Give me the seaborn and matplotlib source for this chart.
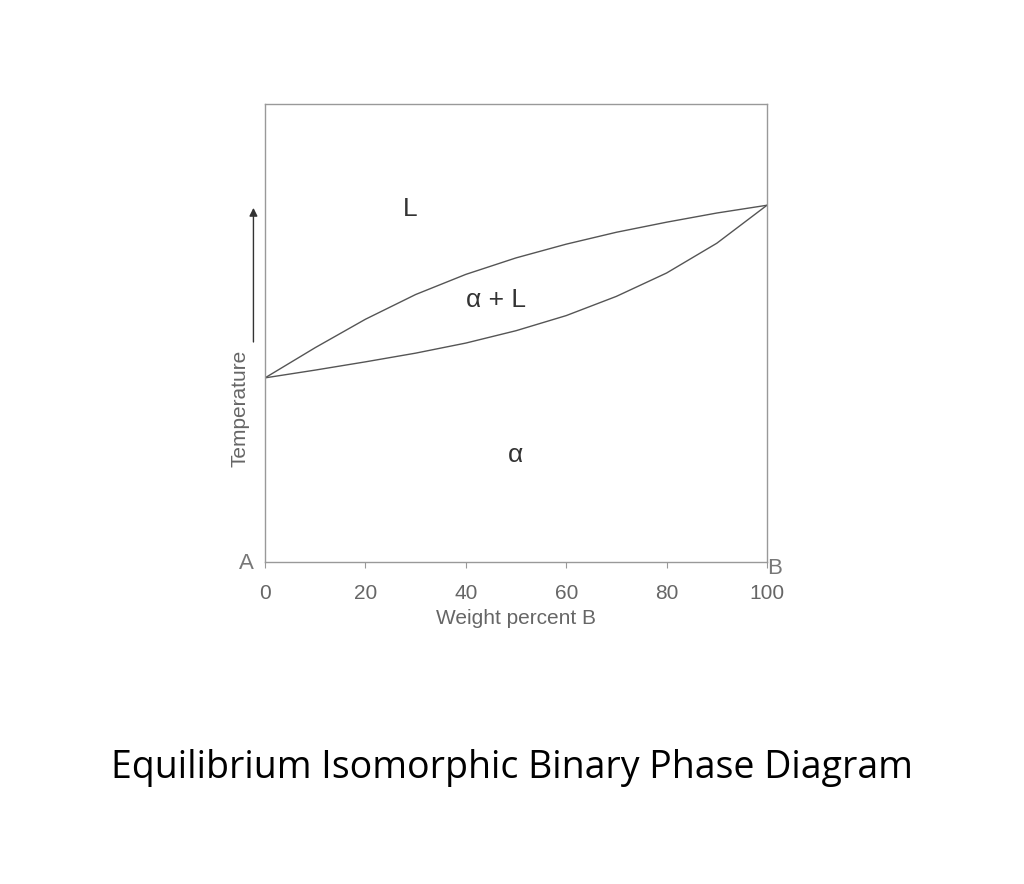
import matplotlib
matplotlib.use("Agg")
import matplotlib.pyplot as plt
import seaborn as sns
import pandas as pd

sns.set_theme(style="white")
plt.rcParams['font.family'] = ['Liberation Sans', 'DejaVu Sans']

comp = [0, 10, 20, 30, 40, 50, 60, 70, 80, 90, 100]
liquidus = [0.402, 0.468, 0.530, 0.584, 0.628, 0.664, 0.694, 0.720, 0.742, 0.762, 0.779]
solidus = [0.402, 0.419, 0.437, 0.456, 0.478, 0.505, 0.538, 0.580, 0.631, 0.696, 0.779]
ticks = [0, 20, 40, 60, 80, 100]

df = pd.DataFrame({"x": comp + comp, "y": liquidus + solidus,
                   "curve": ["liquidus"] * len(comp) + ["solidus"] * len(comp)})

fig = plt.figure(figsize=(10.24, 8.84), dpi=100)
ax = fig.add_axes([0.2588, 0.3643, 0.4902, 0.518])
sns.lineplot(data=df, x="x", y="y", units="curve", estimator=None, color="#555555",
             lw=1.0, ax=ax, legend=False)
ax.set_xlim(0, 100)
ax.set_ylim(0, 1)
ax.set_xticks(ticks)
ax.set_xticklabels([str(t) for t in ticks], color="#666666", fontsize=15)
ax.set_yticks([])
ax.tick_params(axis="x", direction="out", length=4, width=0.8, color="#999999",
               bottom=True, pad=12)
for s in ax.spines.values():
    s.set_color("#999999")
    s.set_linewidth(1.0)
ax.set_xlabel("Weight percent B", color="#666666", fontsize=15, labelpad=4)
ax.set_ylabel("")

ax.text(29, 0.77, "L", fontsize=19, color="#333333", ha="center", va="center")
ax.text(46, 0.572, "α + L", fontsize=19, color="#333333", ha="center", va="center")
ax.text(50, 0.234, "α", fontsize=19, color="#333333", ha="center", va="center")

fig.text(0.2405, 0.362, "A", fontsize=16, color="#777777", ha="center", va="center")
fig.text(0.7565, 0.357, "B", fontsize=16, color="#777777", ha="center", va="center")

fig.text(0.2345, 0.538, "Temperature", rotation=90, fontsize=15, color="#666666",
         ha="center", va="center")
fig.add_artist(matplotlib.patches.FancyArrowPatch((0.2475, 0.610), (0.2475, 0.768),
               transform=fig.transFigure, arrowstyle="-|>", mutation_scale=12,
               color="#333333", lw=1.0))

fig.text(0.5, 0.131, "Equilibrium Isomorphic Binary Phase Diagram", fontsize=27,
         family=["Open Sans", "DejaVu Sans"], color="black", ha="center", va="center")

fig.savefig("out.png", dpi=100, facecolor="white")
